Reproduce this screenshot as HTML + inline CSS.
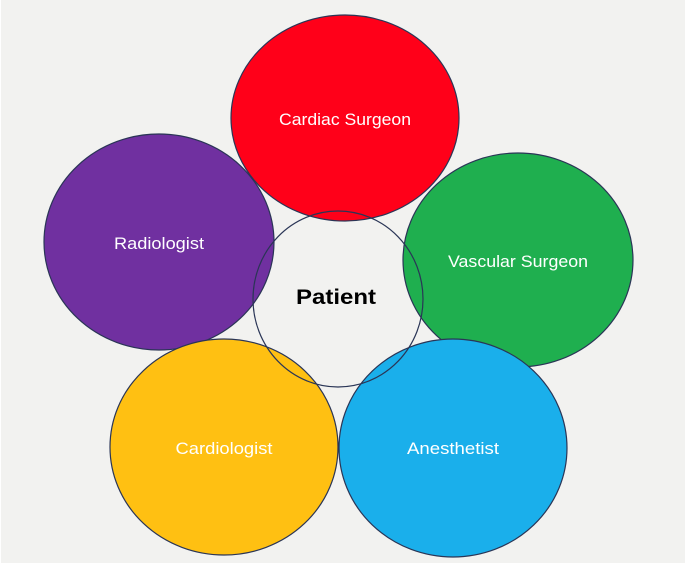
<!DOCTYPE html>
<html><head><meta charset="utf-8"><style>
html,body{margin:0;padding:0;background:#fff}
svg{display:block}
text{font-family:"Liberation Sans",sans-serif;fill:#fff;font-size:17px}
</style></head><body>
<svg width="685" height="566" viewBox="0 0 685 566">
<rect x="1" y="0" width="684" height="563" fill="#f2f2f0"/>
<g stroke="#2a3556" stroke-width="1.2">
<ellipse cx="159" cy="293" rx="114" ry="132" fill="none" stroke="none"/>
<ellipse cx="159" cy="292" rx="114" ry="0" fill="none" stroke="none"/>
<ellipse cx="159" cy="292" rx="0" ry="0" fill="none" stroke="none"/>
<ellipse cx="159" cy="292" rx="0" ry="0" stroke="none"/>
<ellipse cx="159" cy="292" rx="0" ry="0" stroke="none"/>
<ellipse cx="159" cy="292" rx="0" ry="0" stroke="none"/>
<ellipse cx="159" cy="292" rx="0" ry="0" stroke="none"/>
<ellipse cx="159" cy="292" rx="0" ry="0" stroke="none"/>
<ellipse cx="159" cy="292" rx="0" ry="0" stroke="none"/>
<ellipse cx="159" cy="292" rx="0" ry="0" stroke="none"/>
<ellipse cx="159" cy="292" rx="0" ry="0" stroke="none"/>
<ellipse cx="159" cy="292" rx="0" ry="0" stroke="none"/>
<ellipse cx="159" cy="292" rx="0" ry="0" stroke="none"/>
<ellipse cx="159" cy="292" rx="0" ry="0" stroke="none"/>
<ellipse cx="159" cy="292" rx="0" ry="0" stroke="none"/>
<ellipse cx="159" cy="292" rx="0" ry="0" stroke="none"/>
<ellipse cx="159" cy="292" rx="0" ry="0" stroke="none"/>
<ellipse cx="159" cy="292" rx="0" ry="0" stroke="none"/>
<ellipse cx="159" cy="292" rx="0" ry="0" stroke="none"/>
<ellipse cx="159" cy="292" rx="0" ry="0" stroke="none"/>
<ellipse cx="159" cy="242" rx="115" ry="108" fill="#7030a0"/>
<ellipse cx="518" cy="260" rx="115" ry="107" fill="#1faf4f"/>
<ellipse cx="345" cy="118" rx="114" ry="103" fill="#ff0019"/>
<ellipse cx="224" cy="447" rx="114" ry="108" fill="#ffc012"/>
<ellipse cx="453" cy="448" rx="114" ry="109" fill="#1aafeb"/>
<ellipse cx="338" cy="299" rx="85" ry="88" fill="none"/>
</g>
<text x="345" y="125" text-anchor="middle" textLength="132" lengthAdjust="spacingAndGlyphs">Cardiac Surgeon</text>
<text x="159" y="249" text-anchor="middle" textLength="90" lengthAdjust="spacingAndGlyphs">Radiologist</text>
<text x="518" y="267" text-anchor="middle" textLength="140" lengthAdjust="spacingAndGlyphs">Vascular Surgeon</text>
<text x="224" y="454" text-anchor="middle" textLength="97" lengthAdjust="spacingAndGlyphs">Cardiologist</text>
<text x="453" y="454" text-anchor="middle" textLength="92" lengthAdjust="spacingAndGlyphs">Anesthetist</text>
<text x="336" y="304" text-anchor="middle" style="fill:#000;font-weight:bold;font-size:21px" textLength="80" lengthAdjust="spacingAndGlyphs">Patient</text>
</svg>
</body></html>
